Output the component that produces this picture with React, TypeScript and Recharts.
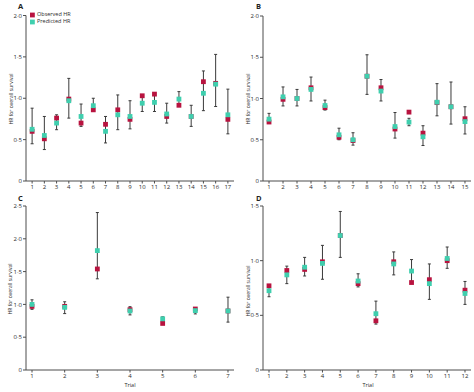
import { ScatterChart, Scatter, XAxis, YAxis, ErrorBar } from "recharts";

// panel A
const trialsA = [1, 2, 3, 4, 5, 6, 7, 8, 9, 10, 11, 12, 13, 14, 15, 16, 17];
const observedA = [0.6, 0.51, 0.76, 0.99, 0.7, 0.86, 0.685, 0.86, 0.745, 1.03, 1.05, 0.78, 0.915, 0.78, 1.2, 1.18, 0.745];
const predictedA = [0.625, 0.55, 0.7, 0.97, 0.78, 0.91, 0.6, 0.8, 0.78, 0.94, 0.95, 0.81, 0.99, 0.78, 1.06, 1.17, 0.8];
const lowerA = [0.45, 0.38, 0.62, 0.76, 0.66, 0.85, 0.46, 0.62, 0.63, 0.84, 0.84, 0.7, 0.91, 0.66, 0.85, 0.9, 0.57];
const upperA = [0.88, 0.78, 0.8, 1.24, 0.93, 1.0, 0.78, 1.04, 0.97, 1.03, 1.05, 0.94, 1.08, 0.915, 1.33, 1.53, 1.11];

// panel B
const trialsB = [1, 2, 3, 4, 5, 6, 7, 8, 9, 10, 11, 12, 13, 14, 15];
const observedB = [0.715, 0.99, 1.0, 1.13, 0.89, 0.53, 0.49, 1.27, 1.13, 0.63, 0.835, 0.58, 0.95, 0.9, 0.755];
const predictedB = [0.75, 1.02, 1.0, 1.11, 0.915, 0.56, 0.5, 1.27, 1.09, 0.66, 0.714, 0.536, 0.955, 0.9, 0.72];
const lowerB = [0.7, 0.91, 0.91, 0.97, 0.86, 0.5, 0.435, 1.05, 0.97, 0.52, 0.67, 0.43, 0.79, 0.69, 0.57];
const upperB = [0.82, 1.14, 1.11, 1.26, 0.98, 0.64, 0.585, 1.53, 1.23, 0.83, 0.76, 0.67, 1.18, 1.2, 0.9];

// panel C
const trialsC = [1, 2, 3, 4, 5, 6, 7];
const observedC = [0.97, 0.97, 1.54, 0.92, 0.71, 0.93, 0.9];
const predictedC = [1.0, 0.955, 1.82, 0.9, 0.78, 0.905, 0.9];
const lowerC = [0.925, 0.86, 1.39, 0.84, 0.76, 0.855, 0.73];
const upperC = [1.07, 1.04, 2.4, 0.965, 0.81, 0.94, 1.11];

// panel D
const trialsD = [1, 2, 3, 4, 5, 6, 7, 8, 9, 10, 11, 12];
const observedD = [0.77, 0.91, 0.92, 0.99, 1.23, 0.79, 0.45, 0.99, 0.8, 0.826, 1.0, 0.73];
const predictedD = [0.725, 0.87, 0.94, 0.975, 1.23, 0.814, 0.515, 0.97, 0.905, 0.79, 1.02, 0.7];
const lowerD = [0.67, 0.79, 0.86, 0.83, 1.03, 0.76, 0.42, 0.87, 0.8, 0.646, 0.93, 0.6];
const upperD = [0.78, 0.95, 1.03, 1.14, 1.45, 0.88, 0.63, 1.08, 1.01, 0.97, 1.125, 0.81];

const ticks2 = [0, 0.5, 1, 1.5, 2];
const ticks25 = [0, 0.5, 1, 1.5, 2, 2.5];
const ticks15 = [0, 0.5, 1, 1.5];

const RED = "#b8133f";
const CYAN = "#3fcfae";
const AXIS = "#4d4d4d";
const FONT = "'Open Sans', 'DejaVu Sans', sans-serif";

function hrLabel(v: number) {
  return v === 0 ? "0" : v.toFixed(1).replace(".", "·");
}

function square(fill: string) {
  return (p: any) => {
    if (p.cx == null || p.cy == null) return <g />;
    return <rect x={p.cx - 2.4} y={p.cy - 2.4} width={4.8} height={4.8} fill={fill} />;
  };
}

type PanelProps = {
  left: number;
  top: number;
  trials: number[];
  observed: number[];
  predicted: number[];
  lower: number[];
  upper: number[];
  yMax: number;
  yTicks: number[];
  xDomain: [number, number];
  marginTop: number;
  axisHeight: number;
};

function Panel({ left, top, trials, observed, predicted, lower, upper, yMax, yTicks, xDomain, marginTop, axisHeight }: PanelProps) {
  const ciRows = trials.map((t, i) => ({
    trial: t,
    y: predicted[i],
    ci: [predicted[i] - lower[i], upper[i] - predicted[i]],
  }));
  const obsRows = trials.map((t, i) => ({ trial: t, y: observed[i] }));
  const predRows = trials.map((t, i) => ({ trial: t, y: predicted[i] }));
  const tickStyle = { fontSize: 6, fill: "#2b2b2b", fontFamily: FONT };

  return (
    <div style={{ position: "absolute", left, top }}>
      <ScatterChart width={237} height={196} margin={{ top: marginTop, right: 3, bottom: 0, left: 0 }}>
        <XAxis
          type="number"
          dataKey="trial"
          domain={xDomain}
          ticks={trials}
          allowDataOverflow
          interval={0}
          height={axisHeight}
          stroke={AXIS}
          tickSize={2.5}
          tickMargin={1}
          tick={tickStyle}
        />
        <YAxis
          type="number"
          dataKey="y"
          domain={[0, yMax]}
          ticks={yTicks}
          allowDataOverflow
          width={26}
          stroke={AXIS}
          tickSize={3}
          tickMargin={1}
          tickFormatter={hrLabel}
          tick={tickStyle}
        />
        <Scatter data={ciRows} isAnimationActive={false} shape={() => <g />}>
          <ErrorBar dataKey="ci" direction="y" width={1.5} stroke="#3a3a3a" strokeWidth={1} isAnimationActive={false} />
        </Scatter>
        <Scatter data={obsRows} isAnimationActive={false} shape={square(RED)} />
        <Scatter data={predRows} isAnimationActive={false} shape={square(CYAN)} />
      </ScatterChart>
    </div>
  );
}

function YTitle({ x, y }: { x: number; y: number }) {
  return (
    <text x={x} y={y} transform={`rotate(-90 ${x} ${y})`} textAnchor="middle" dominantBaseline="middle" fontSize={5} fill="#2b2b2b">
      HR for overall survival
    </text>
  );
}

export default function App() {
  return (
    <div style={{ position: "absolute", left: 0, top: 0, width: 474, height: 392, background: "#fff", fontFamily: FONT }}>
      <Panel left={0} top={0} trials={trialsA} observed={observedA} predicted={predictedA} lower={lowerA} upper={upperA}
        yMax={2} yTicks={ticks2} xDomain={[0.5, 17.5]} marginTop={15.5} axisHeight={15} />
      <Panel left={237} top={0} trials={trialsB} observed={observedB} predicted={predictedB} lower={lowerB} upper={upperB}
        yMax={2} yTicks={ticks2} xDomain={[0.57, 15.43]} marginTop={16} axisHeight={15} />
      <Panel left={0} top={196} trials={trialsC} observed={observedC} predicted={predictedC} lower={lowerC} upper={upperC}
        yMax={2.5} yTicks={ticks25} xDomain={[0.816, 7.184]} marginTop={10} axisHeight={22} />
      <Panel left={237} top={196} trials={trialsD} observed={observedD} predicted={predictedD} lower={lowerD} upper={upperD}
        yMax={1.5} yTicks={ticks15} xDomain={[0.663, 12.337]} marginTop={10} axisHeight={22} />
      <svg width={474} height={392} style={{ position: "absolute", left: 0, top: 0, pointerEvents: "none" }} fontFamily={FONT}>
        <text x={18} y={9} fontSize={7.5} fontWeight="bold" fill="#222">A</text>
        <text x={256} y={9} fontSize={7.5} fontWeight="bold" fill="#222">B</text>
        <text x={18} y={201} fontSize={7.5} fontWeight="bold" fill="#222">C</text>
        <text x={256} y={201} fontSize={7.5} fontWeight="bold" fill="#222">D</text>
        <YTitle x={12} y={99} />
        <YTitle x={249} y={99} />
        <YTitle x={11} y={289} />
        <YTitle x={249} y={291} />
        <rect x={30} y={12.6} width={4.8} height={4.8} fill={RED} />
        <text x={37} y={15} dominantBaseline="middle" fontSize={5.5} fill="#2b2b2b">Observed HR</text>
        <rect x={30} y={19.6} width={4.8} height={4.8} fill={CYAN} />
        <text x={37} y={22} dominantBaseline="middle" fontSize={5.5} fill="#2b2b2b">Predicted HR</text>
        <text x={130} y={387} textAnchor="middle" fontSize={5.5} fill="#2b2b2b">Trial</text>
        <text x={368} y={387} textAnchor="middle" fontSize={5.5} fill="#2b2b2b">Trial</text>
      </svg>
    </div>
  );
}
